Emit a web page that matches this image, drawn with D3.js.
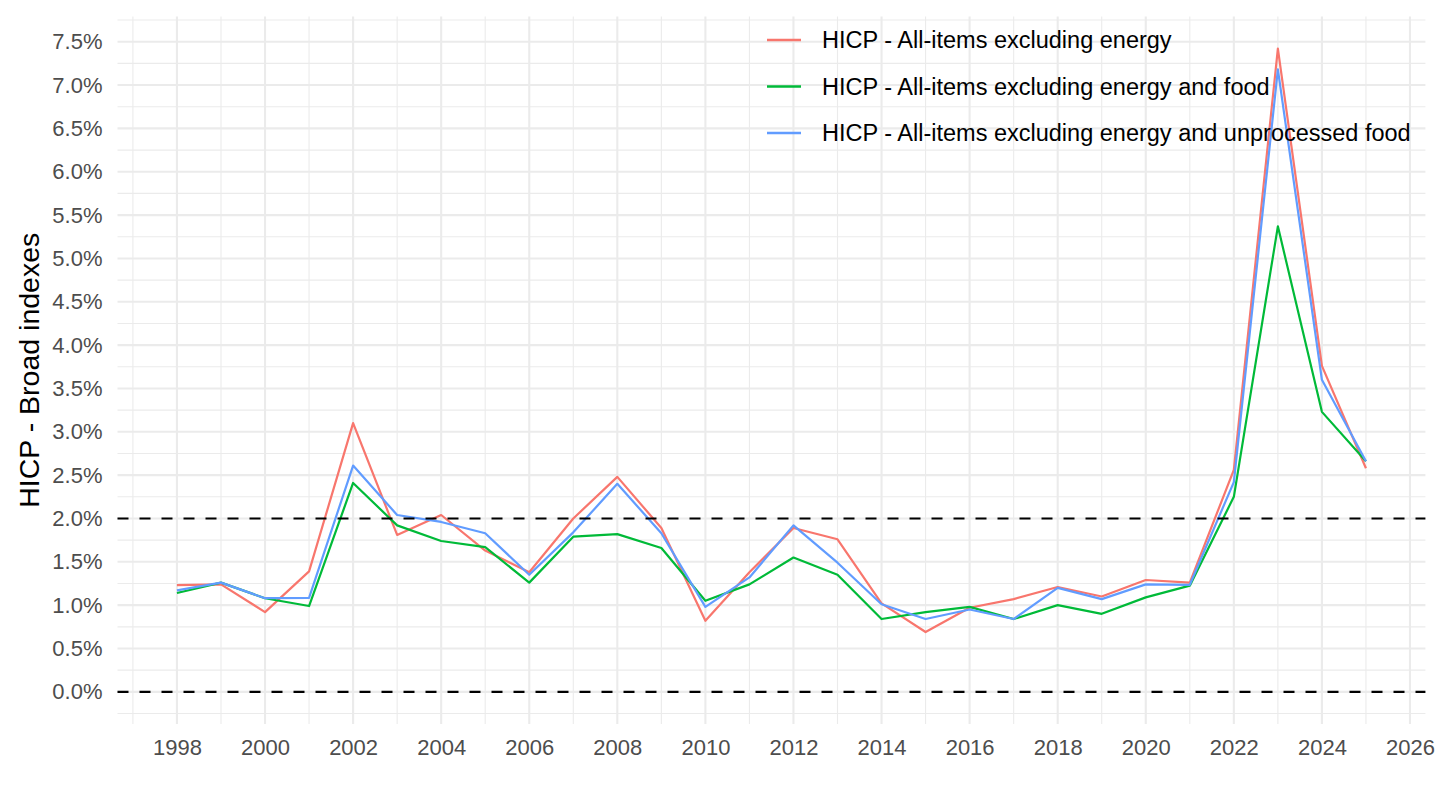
<!DOCTYPE html>
<html>
<head>
<meta charset="utf-8">
<script src="https://cdn.jsdelivr.net/npm/d3@7"></script>
<style>
  html, body { margin: 0; padding: 0; background: #fff; }
  svg { display: block; font-family: "Liberation Sans", Arial, Helvetica, sans-serif; }
</style>
</head>
<body>
<svg id="chart" width="1440" height="810"></svg>
<script>
const years = d3.range(1998, 2026);
const seriesNames = [
  "HICP - All-items excluding energy",
  "HICP - All-items excluding energy and food",
  "HICP - All-items excluding energy and unprocessed food"
];
const seriesColors = ["#F8766D", "#00BA38", "#619CFF"];
const exEnergy = [1.23, 1.24, 0.92, 1.39, 3.10, 1.81, 2.04, 1.63, 1.38, 2.00, 2.48, 1.89, 0.82, 1.38, 1.89, 1.76, 1.02, 0.69, 0.97, 1.07, 1.21, 1.10, 1.29, 1.26, 2.56, 7.42, 3.76, 2.58];
const exEnergyFood = [1.14, 1.26, 1.08, 0.99, 2.41, 1.92, 1.74, 1.67, 1.26, 1.79, 1.82, 1.66, 1.05, 1.24, 1.55, 1.35, 0.84, 0.92, 0.98, 0.84, 1.00, 0.90, 1.09, 1.225, 2.25, 5.37, 3.23, 2.66];
const exEnergyUnproc = [1.17, 1.26, 1.08, 1.085, 2.61, 2.04, 1.96, 1.83, 1.35, 1.84, 2.40, 1.83, 0.98, 1.32, 1.92, 1.49, 1.01, 0.84, 0.95, 0.84, 1.20, 1.07, 1.24, 1.235, 2.42, 7.18, 3.60, 2.66];
const seriesValues = [exEnergy, exEnergyFood, exEnergyUnproc];
const refLines = [0, 2];
const xTicks = d3.range(1998, 2027, 2);
const xMinor = d3.range(1997, 2027, 2);
const yTicks = d3.range(0, 7.51, 0.5);
const yMinor = d3.range(-0.25, 7.8, 0.5);
const yTitle = "HICP - Broad indexes";

const svg = d3.select("#chart");
const plot = { left: 117.5, right: 1425.4, top: 16.5, bottom: 724 };

const allVals = seriesValues.flat().concat(refLines);
const yMin = d3.min(allVals), yMax = d3.max(allVals);
const yPad = (yMax - yMin) * 0.05;
const xPad = (d3.max(years) - d3.min(years)) * 0.05;

const x = d3.scaleLinear().domain([d3.min(years) - xPad, d3.max(years) + xPad]).range([plot.left, plot.right]);
const y = d3.scaleLinear().domain([yMin - yPad, yMax + yPad]).range([plot.bottom, plot.top]);

const grid = svg.append("g");
// minor grid
grid.selectAll(".vminor").data(xMinor.filter(d => x(d) >= plot.left && x(d) <= plot.right)).join("line")
  .attr("x1", d => x(d)).attr("x2", d => x(d)).attr("y1", plot.top).attr("y2", plot.bottom)
  .attr("stroke", "#EBEBEB").attr("stroke-width", 1.1);
grid.selectAll(".hminor").data(yMinor.filter(d => y(d) >= plot.top && y(d) <= plot.bottom)).join("line")
  .attr("y1", d => y(d)).attr("y2", d => y(d)).attr("x1", plot.left).attr("x2", plot.right)
  .attr("stroke", "#EBEBEB").attr("stroke-width", 1.1);
// major grid
grid.selectAll(".vmajor").data(xTicks).join("line")
  .attr("x1", d => x(d)).attr("x2", d => x(d)).attr("y1", plot.top).attr("y2", plot.bottom)
  .attr("stroke", "#EBEBEB").attr("stroke-width", 2.1);
grid.selectAll(".hmajor").data(yTicks).join("line")
  .attr("y1", d => y(d)).attr("y2", d => y(d)).attr("x1", plot.left).attr("x2", plot.right)
  .attr("stroke", "#EBEBEB").attr("stroke-width", 2.1);

// axes (text only, ggplot minimal)
const xAxis = svg.append("g").attr("transform", `translate(0,${plot.bottom})`)
  .call(d3.axisBottom(x).tickValues(xTicks).tickFormat(d3.format("d")).tickSize(0).tickPadding(15));
xAxis.select(".domain").remove();
xAxis.selectAll("text").attr("fill", "#4D4D4D").style("font-size", "22px").style("font-family", "Liberation Sans, Arial, sans-serif");

const yAxis = svg.append("g").attr("transform", `translate(${plot.left},0)`)
  .call(d3.axisLeft(y).tickValues(yTicks).tickFormat(d => d3.format(".1f")(d) + "%").tickSize(0).tickPadding(15));
yAxis.select(".domain").remove();
yAxis.selectAll("text").attr("fill", "#4D4D4D").style("font-size", "22px").style("font-family", "Liberation Sans, Arial, sans-serif");

svg.append("text")
  .attr("transform", `translate(29,${(plot.top + plot.bottom) / 2}) rotate(-90)`)
  .attr("text-anchor", "middle").attr("dominant-baseline", "central")
  .attr("fill", "#000").style("font-size", "28.5px")
  .text(yTitle);

// series
const line = d3.line().x((d, i) => x(years[i])).y(d => y(d));
seriesValues.forEach((vals, k) => {
  svg.append("path").datum(vals)
    .attr("d", line).attr("fill", "none")
    .attr("stroke", seriesColors[k]).attr("stroke-width", 2.2)
    .attr("stroke-linejoin", "round");
});

// reference dashed lines
svg.selectAll(".ref").data(refLines).join("line")
  .attr("x1", plot.left).attr("x2", plot.right)
  .attr("y1", d => y(d)).attr("y2", d => y(d))
  .attr("stroke", "#000").attr("stroke-width", 2.2).attr("stroke-dasharray", "11,11");

// legend
const legend = svg.append("g");
const legY = [40, 86.5, 133];
seriesNames.forEach((name, k) => {
  legend.append("line").attr("x1", 767).attr("x2", 801).attr("y1", legY[k]).attr("y2", legY[k])
    .attr("stroke", seriesColors[k]).attr("stroke-width", 2.4);
  legend.append("text").attr("x", 822).attr("y", legY[k]).attr("dominant-baseline", "central")
    .attr("fill", "#000").style("font-size", "23.5px").text(name);
});
</script>
</body>
</html>
